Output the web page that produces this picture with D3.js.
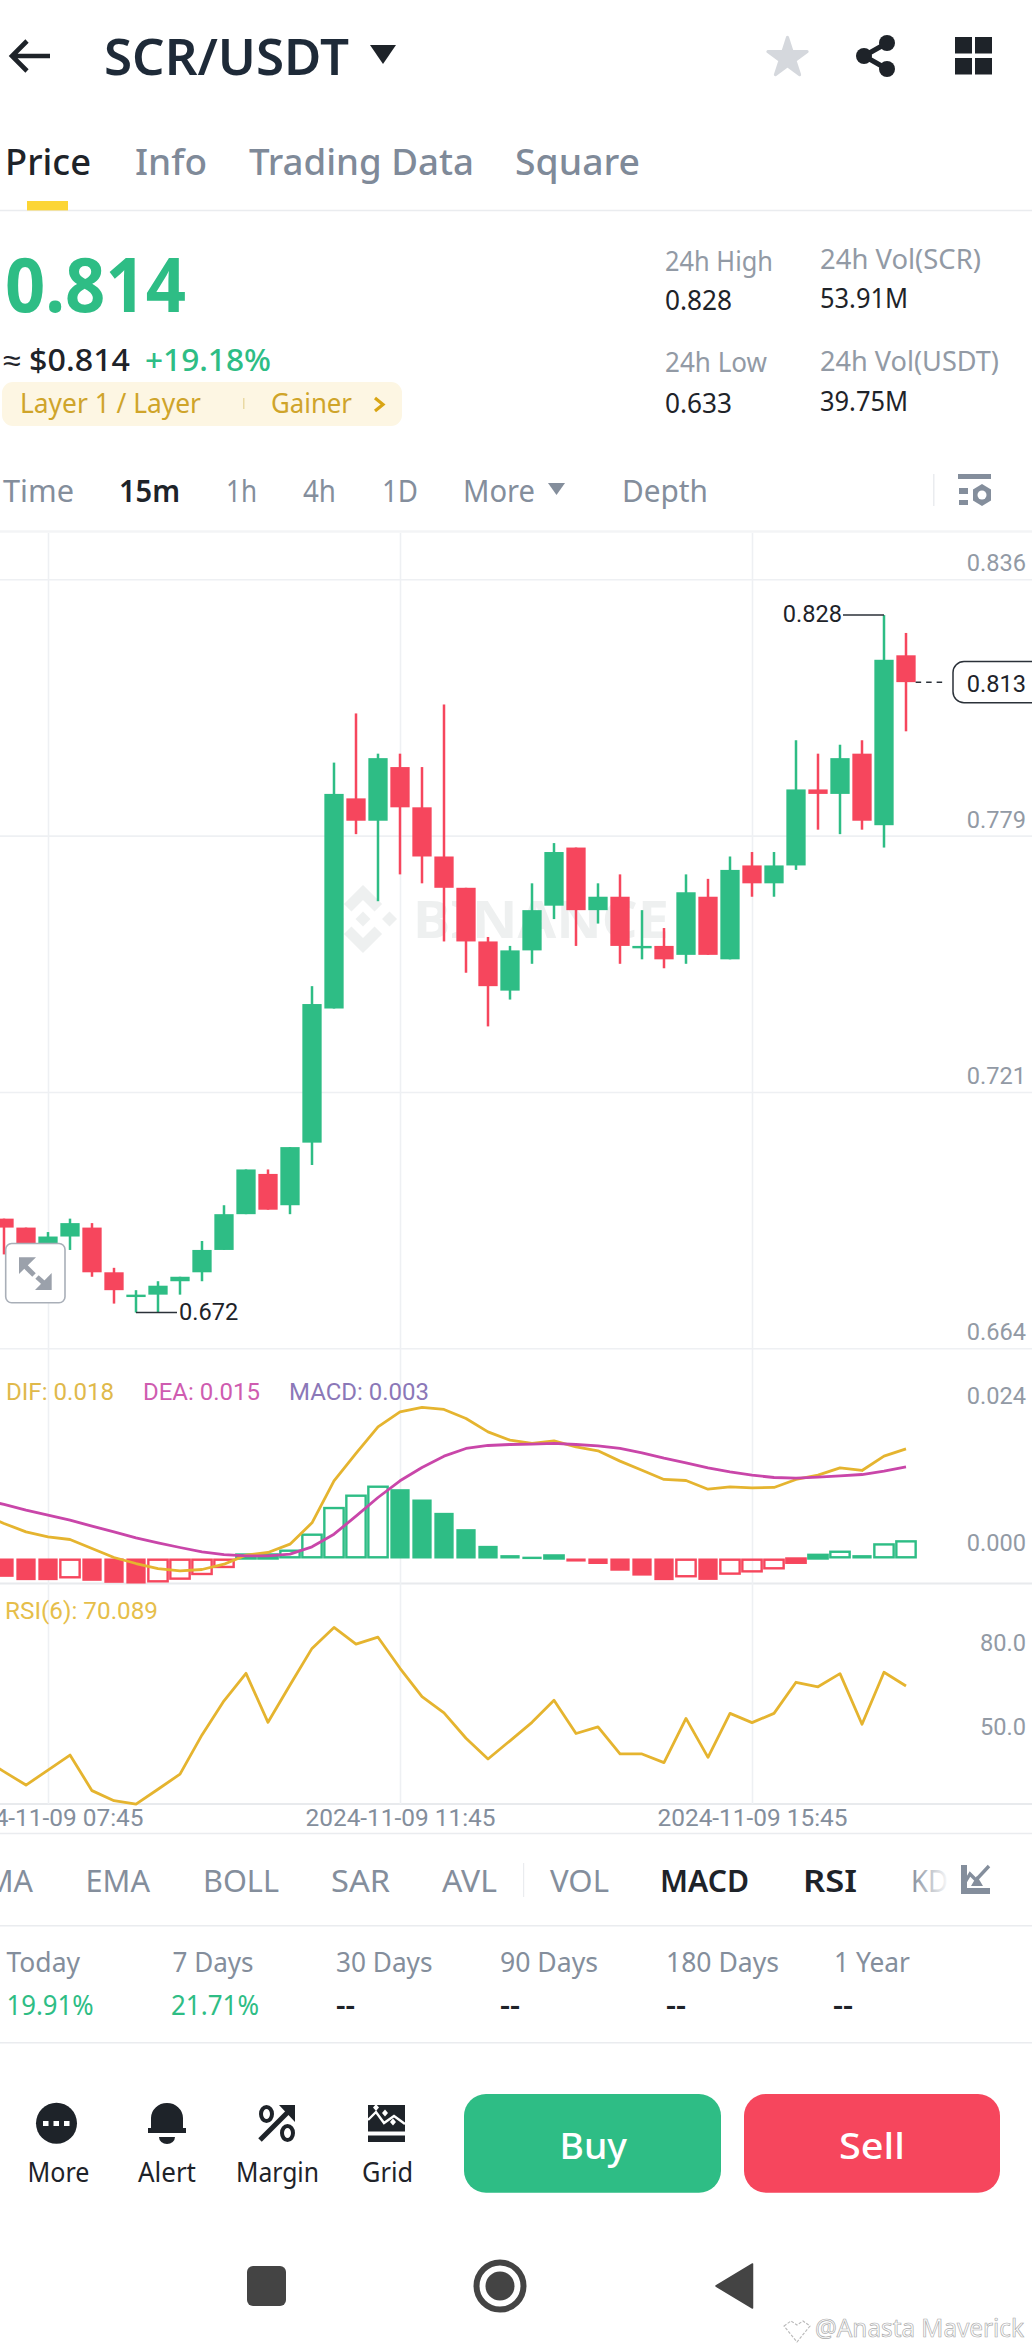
<!DOCTYPE html>
<html><head><meta charset="utf-8">
<script src="https://cdn.jsdelivr.net/npm/d3@7/dist/d3.min.js"></script>
<style>html,body{margin:0;padding:0;background:#fff}svg{display:block}</style>
</head><body><div id="chart"></div>
<script>
// ---------- chart data (15m candles, left to right) ----------
const open  = [.693,.691,.686,.689,.691,.681,.676,.676,.679,.681,.686,.694,.703,.696,.710,.740,.787,.782,.794,.785,.774,.767,.755,.744,.753,.763,.776,.762,.765,.754,.754,.752,.765,.751,.772,.768,.772,.789,.788,.797,.781,.819];
const close = [.691,.686,.689,.692,.681,.677,.676,.678,.680,.686,.694,.704,.695,.709,.741,.788,.782,.796,.785,.774,.767,.755,.745,.753,.762,.775,.762,.765,.754,.754,.751,.766,.752,.771,.768,.772,.789,.788,.796,.782,.818,.813];
const high  = [.693,.691,.690,.693,.692,.682,.677,.679,.680,.688,.696,.704,.704,.709,.745,.795,.806,.797,.797,.794,.808,.767,.756,.754,.768,.777,.776,.768,.770,.762,.758,.770,.769,.774,.775,.775,.800,.797,.799,.800,.828,.824];
const low   = [.685,.684,.685,.686,.680,.674,.672,.672,.676,.679,.686,.694,.695,.694,.705,.740,.779,.764,.770,.768,.755,.748,.736,.742,.750,.760,.754,.759,.750,.751,.749,.750,.752,.751,.765,.765,.771,.780,.779,.780,.776,.802];
const macdHist = [-.0030,-.00354,-.00354,-.00327,-.00365,-.00398,-.00409,-.00393,-.00349,-.00273,-.00158,.00065,.00066,.00147,.00409,.00845,.01047,.01194,.01134,.00965,.00747,.0048,.00207,.00055,.0003,.0005,-.0005,-.0009,-.0020,-.0028,-.00354,-.0031,-.0035,-.00267,-.0023,-.0018,-.0007,.0006,.0013,.00055,.0025,.0030];
// the three lines start one candle before the visible window
const dif = [.00736,.00573,.00436,.00354,.00311,.00164,.00016,-.00082,-.00164,-.00202,-.0018,-.00093,.00055,.00098,.00235,.00584,.01271,.01718,.02154,.024,.02471,.02438,.02291,.02072,.01936,.01882,.01925,.01827,.01762,.01593,.01445,.01293,.01276,.01134,.01173,.01156,.01162,.01293,.01363,.01483,.0144,.01674,.01794];
const dea = [.00971,.00884,.00791,.00709,.00627,.00529,.00436,.00338,.00256,.0018,.00109,.00065,.00044,.00044,.00071,.00191,.00398,.00693,.00998,.01271,.01489,.01674,.018,.01849,.01865,.01871,.01882,.01865,.01843,.018,.01729,.01642,.01565,.01483,.01418,.01363,.01325,.01314,.01331,.01353,.01374,.01429,.015];
const rsi = [44.2,39.5,34.7,40,45.4,32.7,29.1,27.9,33.2,38.6,52.6,64.8,74.6,57.1,70.4,83.5,91,85,87.5,76.4,66.3,60.5,51.4,44,50.5,57.1,65,53.1,55.5,45.8,45.8,42.7,58.5,44.6,60.3,57,60.3,71.4,69.8,74.5,56.4,75,70.089];
const priceTicks = [.836,.77867,.72133,.664];
const macdTicks = [.024,0];
const rsiTicks = [80,50];
const timeTickIndex = [2,18,34];
const timeTickLabels = ['2024-11-09 07:45','2024-11-09 11:45','2024-11-09 15:45'];
const highIndex = 40, lowIndex = 6, lastPrice = .813;

// ---------- interface text ----------
const DARK='#1E2329', GREY='#848E9C', GREEN='#2EBD85', RED='#F6465D', GOLD='#CFA42A';
const uiText = [ // text, left, right, baseline, size, colour, weight
 ['SCR/USDT',104,349,75,50,'#1E2A38',600],
 ['Price',5,91,174.5,37,DARK,500],['Info',135,207,174.5,37,'#7F8A99',500],['Trading Data',249,474,174.5,37,'#7F8A99',500],['Square',515,640,174.5,37,'#7F8A99',500],
 ['0.814',5,186,311.5,76,GREEN,700],['≈ $0.814',3,130,371,31,DARK,500],['+19.18%',145,271,371,31,GREEN,500],
 ['Layer 1 / Layer',20,201,413,28,GOLD,400],['Gainer',271,352,413,28,GOLD,400],
 ['24h High',665,773,271,28,'#929AA5',400],['0.828',665,732,310,27,DARK,400],['24h Vol(SCR)',820,981,269,28,'#929AA5',400],['53.91M',820,908,308,27,DARK,400],
 ['24h Low',665,767,372,28,'#929AA5',400],['0.633',665,732,413,27,DARK,400],['24h Vol(USDT)',820,999,371,28,'#929AA5',400],['39.75M',820,908,411,27,DARK,400],
 ['Time',3,74,502,31,GREY,400],['15m',119,180,502,31,DARK,600],['1h',226,257,502,31,GREY,400],['4h',303,336,502,31,GREY,400],['1D',382,418,502,31,GREY,400],['More',463,535,502,31,GREY,400],['Depth',622,708,502,31,GREY,400],
 ['MA',-14,33,1892,31,GREY,400],['EMA',85.5,150,1892,31,GREY,400],['BOLL',203,279,1892,31,GREY,400],['SAR',331,390,1892,31,GREY,400],['AVL',442,497,1892,31,GREY,400],['VOL',550,609,1892,31,GREY,400],['MACD',660,749,1892,31,DARK,600],['RSI',803,857,1892,31,DARK,600],
 ['Today',6.5,80,1971.7,28,GREY,400],['7 Days',172.5,253.5,1971.7,28,GREY,400],['30 Days',336,432.5,1971.7,28,GREY,400],['90 Days',500,598,1971.7,28,GREY,400],['180 Days',666,779,1971.7,28,GREY,400],['1 Year',834,910,1971.7,28,GREY,400],
 ['19.91%',6.5,93.5,2015,28,GREEN,400],['21.71%',171,259,2015,28,GREEN,400],['--',336,355,2015,28,DARK,600],['--',500,520,2015,28,DARK,600],['--',666,686,2015,28,DARK,600],['--',833,853,2015,28,DARK,600],
 ['More',27.6,89.5,2182,27,DARK,400],['Alert',138,196,2182,27,DARK,400],['Margin',236,319,2182,27,DARK,400],['Grid',362,413,2182,27,DARK,400],
 ['Buy',559.6,627,2159,37,'#fff',500],['Sell',839,905,2159,37,'#fff',500]
];

// ---------- scales ----------
const W=1032,H=2351,ROB='Roboto, sans-serif',UI='"Noto Sans", sans-serif';
const x = d3.scaleLinear().domain([0,41]).range([4,906]);
const yP = d3.scaleLinear().domain([.664,.836]).range([1348.3,579.3]);
const yM = d3.scaleLinear().domain([0,.024]).range([1558.5,1411.8]);
const yR = d3.scaleLinear().domain([50,80]).range([1742.2,1658.2]);
const svg = d3.select('#chart').append('svg').attr('width',W).attr('height',H).attr('viewBox',`0 0 ${W} ${H}`);
const hline=(y,c='#EAECEF',w=1.5,x0=0,x1=W)=>svg.append('line').attr('x1',x0).attr('x2',x1).attr('y1',y).attr('y2',y).attr('stroke',c).attr('stroke-width',w);
const shape=(d,fill=DARK,extra={})=>{const p=svg.append('path').attr('d',d).attr('fill',fill);Object.entries(extra).forEach(([k,v])=>p.attr(k,v));return p;};
const box=(a,b,w,h,r,f)=>svg.append('rect').attr('x',a).attr('y',b).attr('width',w).attr('height',h).attr('rx',r).attr('fill',f);

// ---------- page separators ----------
hline(210.4); hline(531.5,'#F3F4F6',2.5); hline(1583.5,'#E8EAED',2.2); hline(1804,'#E8EAED',2.2); hline(1833.5); hline(1925.7); hline(2042.7);

// ---------- watermark ----------
const wm='#EEF0F0', lx=363, ly=919, ls=34;
const poly=pts=>'M'+pts.map(p=>`${lx+p[0]*ls},${ly+p[1]*ls}`).join('L')+'Z';
[[[0,-.22],[.22,0],[0,.22],[-.22,0]],[[-.78,-.22],[-.56,0],[-.78,.22],[-1,0]],[[.78,-.22],[1,0],[.78,.22],[.56,0]],
 [[0,-1],[.56,-.44],[.34,-.22],[0,-.56],[-.34,-.22],[-.56,-.44]],[[0,1],[.56,.44],[.34,.22],[0,.56],[-.34,.22],[-.56,.44]]].forEach(p=>shape(poly(p),wm));
svg.append('text').text('BINANCE').attr('x',413).attr('y',938).attr('font-family',UI).attr('font-size',52).attr('font-weight',700).attr('fill',wm).attr('textLength',256).attr('lengthAdjust','spacingAndGlyphs');

// ---------- vertical grid via axis ----------
const gridX = svg.append('g').attr('transform','translate(0,1804)').call(d3.axisBottom(x).tickValues(timeTickIndex).tickSize(-1271).tickFormat(i=>timeTickLabels[timeTickIndex.indexOf(i)]));
gridX.select('.domain').remove();
gridX.selectAll('line').attr('stroke','#EEF0F3').attr('stroke-width',1.6);
gridX.selectAll('text').attr('y',21.7).attr('dy',0).attr('font-family',ROB).attr('font-size',24.4).attr('fill',GREY).attr('text-anchor','middle');

// ---------- right hand axes ----------
function rightAxis(scale,ticks,fmt,lineSize,shift,lineColor){
  const g=svg.append('g').attr('transform',`translate(${W},0)`).call(d3.axisLeft(scale).tickValues(ticks).tickSize(lineSize).tickFormat(fmt));
  g.select('.domain').remove();
  g.selectAll('line').attr('stroke',lineColor||'#EEF0F3').attr('stroke-width',1.6);
  g.selectAll('text').attr('x',-6).attr('y',shift).attr('dy',0).attr('text-anchor','end').attr('font-family',ROB).attr('font-size',23.6).attr('fill','#929AA5');
}
rightAxis(yP,priceTicks,d3.format('.3f'),W,-8.6);
rightAxis(yM,macdTicks,d3.format('.3f'),0,-8.5);
rightAxis(yR,rsiTicks,d3.format('.1f'),0,-8.2);

// ---------- candles ----------
const BODY=19.3, WICK=2.5;
const idx=d3.range(open.length);
const col=i=>close[i]>=open[i]?GREEN:RED;
svg.append('g').selectAll('rect').data(idx).join('rect').attr('x',i=>x(i)-WICK/2).attr('width',WICK).attr('y',i=>yP(high[i])).attr('height',i=>yP(low[i])-yP(high[i])).attr('fill',col);
svg.append('g').selectAll('rect').data(idx).join('rect').attr('x',i=>x(i)-BODY/2).attr('width',BODY)
  .attr('y',i=>yP(Math.max(open[i],close[i]))).attr('height',i=>Math.max(2.4,Math.abs(yP(open[i])-yP(close[i])))).attr('fill',col);

// high / low / last annotations
const INK='#2B3139';
const ann=(x1,x2,y)=>svg.append('line').attr('x1',x1).attr('x2',x2).attr('y1',y).attr('y2',y).attr('stroke',INK).attr('stroke-width',1.5);
const lab=(t,xx,y,anchor='start')=>svg.append('text').text(t).attr('x',xx).attr('y',y).attr('text-anchor',anchor).attr('font-family',ROB).attr('font-size',23.6).attr('fill',DARK);
const hy=yP(high[highIndex]), ly2=yP(low[lowIndex]);
ann(x(highIndex)-41,x(highIndex),hy); lab(high[highIndex].toFixed(3),x(highIndex)-42,hy+6.7,'end');
ann(x(lowIndex),x(lowIndex)+41,ly2); lab(low[lowIndex].toFixed(3),x(lowIndex)+43,ly2+7);
const lpy=yP(lastPrice);
svg.append('line').attr('x1',x(41)+BODY/2).attr('x2',944).attr('y1',lpy).attr('y2',lpy).attr('stroke',INK).attr('stroke-width',1.5).attr('stroke-dasharray','5.5 5');
svg.append('rect').attr('x',953).attr('y',lpy-20.6).attr('width',100).attr('height',41.2).attr('rx',11).attr('fill','#fff').attr('stroke',INK).attr('stroke-width',1.5);
lab(lastPrice.toFixed(3),1026,lpy+9.4,'end');

// expand button
svg.append('rect').attr('x',5.7).attr('y',1243.5).attr('width',59.3).attr('height',59.3).attr('rx',6).attr('fill','#fff').attr('stroke','#A9AFB8').attr('stroke-width',1.6);
const ig='#9BA1AB';
shape('M19,1257.3L36,1257.3L19,1274Z',ig); shape('M51.7,1290L35,1290L51.7,1273Z',ig);
shape('M25,1266L34,1275',"none",{stroke:ig,'stroke-width':5}); shape('M37,1277L46,1285',"none",{stroke:ig,'stroke-width':5});

// ---------- MACD ----------
const STROKE=2.4;
const rising=i=>i>0&&macdHist[i]>macdHist[i-1];
svg.append('g').selectAll('rect').data(macdHist.map((v,i)=>({v,i}))).join('rect').each(function(d){
  const c=d.v>=0?GREEN:RED, top=Math.min(yM(d.v),yM(0)), h=Math.abs(yM(d.v)-yM(0)), s=d3.select(this);
  s.attr('x',x(d.i)-BODY/2).attr('width',BODY);
  if(rising(d.i)){
    if(h<5) s.attr('y',top).attr('height',Math.max(h,2)).attr('fill',c).attr('stroke',c).attr('stroke-width',STROKE);
    else s.attr('y',top+STROKE/2).attr('height',h-STROKE).attr('fill','none').attr('stroke',c).attr('stroke-width',STROKE);
  } else s.attr('y',top).attr('height',Math.max(h,2.4)).attr('fill',c);
});
const line=(scale,vals,c)=>svg.append('path').attr('d',d3.line().x((v,i)=>x(i-1)).y(v=>scale(v))(vals)).attr('fill','none').attr('stroke',c).attr('stroke-width',2.8).attr('stroke-linejoin','round');
line(yM,dif,'#E5B42F'); line(yM,dea,'#C946A9');
const legend=(t,a,b,y,c)=>svg.append('text').text(t).attr('x',a).attr('y',y).attr('font-family',ROB).attr('font-size',23.4).attr('fill',c).attr('textLength',b-a).attr('lengthAdjust','spacingAndGlyphs');
legend('DIF: '+d3.format('.3f')(dif[dif.length-1]),6,114,1400,'#E0B94B');
legend('DEA: '+d3.format('.3f')(dea[dea.length-1]),143,260,1400,'#CF5CB0');
legend('MACD: '+d3.format('.3f')(macdHist[macdHist.length-1]),289,429,1400,'#8B78B8');

// ---------- RSI ----------
line(yR,rsi,'#E5B42F');
legend('RSI(6): '+d3.format('.3f')(rsi[rsi.length-1]),5,158,1619,'#E6BE4A');

// ---------- buttons and badge, beneath their labels ----------
box(464,2094,257,98.7,22,GREEN);
box(744,2094,256,98.7,22,RED);
box(2,382,400,44,11,'#FDF6E3');
box(243,398,1.5,11,0,'#EAD9A3');
shape('M375,398L383,404.5L375,411','none',{stroke:'#D9A514','stroke-width':3.2});
box(27,201,41,9.4,0,'#FCD535');

// ---------- interface text ----------
svg.append('g').selectAll('text').data(uiText).join('text').text(d=>d[0]).attr('x',d=>d[1]).attr('textLength',d=>d[2]-d[1]).attr('lengthAdjust','spacingAndGlyphs')
  .attr('y',d=>d[3]).attr('font-size',d=>d[4]).attr('fill',d=>d[5]).attr('font-weight',d=>d[6]).attr('font-family',UI);
const kdGrad=svg.append('defs').append('linearGradient').attr('id','kd').attr('gradientUnits','userSpaceOnUse').attr('x1',911).attr('x2',950).attr('y1',0).attr('y2',0);
kdGrad.append('stop').attr('offset',0).attr('stop-color',GREY); kdGrad.append('stop').attr('offset',1).attr('stop-color','#fff');
svg.append('text').text('KD').attr('x',911).attr('y',1892).attr('font-family',UI).attr('font-size',31).attr('fill','url(#kd)').attr('textLength',37).attr('lengthAdjust','spacingAndGlyphs');

// ---------- icons ----------
shape('M50,56L14,56M27,41L12,56L27,71','none',{stroke:DARK,'stroke-width':4.6});
shape('M370,45L396,45L383,64Z',DARK);
shape(d3.symbol(d3.symbolStar,480)(),'#D5D8DD',{transform:'translate(787.5,58)','stroke':'#D5D8DD','stroke-width':3,'stroke-linejoin':'round'});
shape('M887,43L864,56L887,69','none',{stroke:DARK,'stroke-width':5});
[[887,43],[864,56],[887,69]].forEach(p=>svg.append('circle').attr('cx',p[0]).attr('cy',p[1]).attr('r',8).attr('fill',DARK));
[[955,37],[975,37],[955,58],[975,58]].forEach(p=>box(p[0],p[1],17,16.5,0,DARK));
shape('M548,483L565,483L556.5,495Z',GREY);
box(933,474,1.5,32,0,'#EAECEF');
box(958,474,33,5,0,GREY);
box(959,488,9,6,0,GREY);
box(959,500,9,5,0,GREY);
shape('M982,484L991,489.5L991,500.5L982,506L973,500.5L973,489.5Z',GREY);
svg.append('circle').attr('cx',982).attr('cy',495).attr('r',4.5).attr('fill','#fff');
box(523,1863,1.2,34,0,'#EAECEF');
shape('M961,1865L961,1894L990,1894L990,1888L967,1888L967,1865Z',GREY);
shape('M964,1884L970,1874L976,1880L989,1866','none',{stroke:GREY,'stroke-width':3.4});
shape('M977,1876L983,1886L971,1886Z',GREY);
// bottom bar icons
svg.append('circle').attr('cx',56.5).attr('cy',2123.3).attr('r',20.5).attr('fill',DARK);
[43,53.5,64].forEach(v=>box(v,2121,5.5,5,0,'#fff'));
shape('M151,2128L151,2118A16,15 0 0 1 183,2118L183,2128L186,2128L186,2133L148,2133L148,2128Z',DARK);
shape('M159,2137L175,2137A8,7 0 0 1 159,2137Z',DARK);
shape('M260,2140L288,2112','none',{stroke:DARK,'stroke-width':5});
shape('M279,2105L295,2105L295,2122Z',DARK);
svg.append('ellipse').attr('cx',266.5).attr('cy',2114).attr('rx',5.5).attr('ry',7).attr('fill','none').attr('stroke',DARK).attr('stroke-width',4);
svg.append('ellipse').attr('cx',287.5).attr('cy',2133).attr('rx',5.5).attr('ry',7).attr('fill','none').attr('stroke',DARK).attr('stroke-width',4);
box(368,2105,37,26.5,0,DARK);
box(368,2135.5,37,6.5,0,DARK);
shape('M368,2120L376,2112L384,2123L394,2116L405,2124','none',{stroke:'#fff','stroke-width':2.4});
[[376,2107.5],[385,2113],[393,2122]].forEach(p=>shape(`M${p[0]},${p[1]-3.5}L${p[0]+3},${p[1]}L${p[0]},${p[1]+3.5}L${p[0]-3},${p[1]}Z`,'#fff'));
// system bar
const SYS='#444444';
box(247,2266,39,40,6,SYS);
svg.append('circle').attr('cx',500).attr('cy',2286).attr('r',23.5).attr('fill','none').attr('stroke',SYS).attr('stroke-width',6);
svg.append('circle').attr('cx',500).attr('cy',2286).attr('r',14.5).attr('fill',SYS);
shape('M752.5,2264L752.5,2308L716,2286Z',SYS,{stroke:SYS,'stroke-width':1.5,'stroke-linejoin':'round'});
// source mark
shape('M784,2326L791,2321L797,2325L803,2321L810,2326L797,2342Z','none',{stroke:'#B8B8B8','stroke-width':1.1,'stroke-dasharray':'3 1.5'});
svg.append('text').text('@Anasta Maverick').attr('x',815).attr('y',2337).attr('font-family',UI).attr('font-size',25).attr('fill','#fff').attr('stroke','#ABABAB').attr('stroke-width',.7).attr('textLength',209).attr('lengthAdjust','spacingAndGlyphs');
</script></body></html>
